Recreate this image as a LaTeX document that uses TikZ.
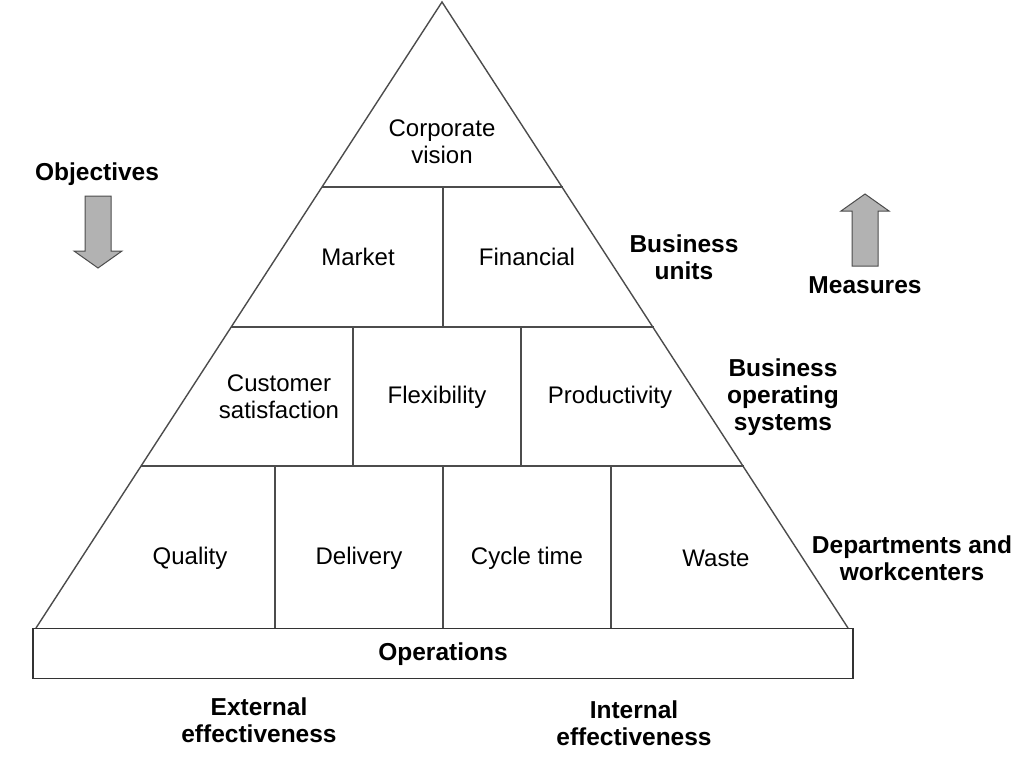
\documentclass[tikz,border=0pt]{standalone}
\usepackage{fontspec}
\setmainfont{Liberation Sans}
\begin{document}
\begin{tikzpicture}[x=1pt,y=-1pt,
  lbl/.style={font=\fontsize{24}{27}\selectfont,align=center},
  blbl/.style={font=\fontsize{24.5}{27}\selectfont\bfseries,align=center},
  grid/.style={draw=black!70,line width=1.4pt},
  bigarrow/.style={draw=black!70,fill=black!30,line width=1pt}]
\useasboundingbox (0,0) rectangle (1036,760);
\coordinate (apex) at (442,2);
\coordinate (bl) at (36,628);
\coordinate (br) at (848,628);
\draw[grid] (bl) -- (apex) -- (br);
\draw[grid] (322,187) -- (563,187);
\draw[grid] (231,327) -- (654,327);
\draw[grid] (141,466) -- (744,466);
\draw[grid] (443,187) -- (443,327);
\draw[grid] (353,327) -- (353,466);
\draw[grid] (521,327) -- (521,466);
\draw[grid] (275,466) -- (275,628);
\draw[grid] (443,466) -- (443,628);
\draw[grid] (611,466) -- (611,628);
\node[draw=black!80,line width=1.4pt,minimum width=820pt,minimum height=50pt,anchor=north,blbl] (ops) at (443,628) {Operations};
\node[lbl] (cv) at (442,142) {Corporate\\vision};
\node[lbl] (mk) at (358,257) {Market};
\node[lbl] (fi) at (527,257) {Financial};
\node[lbl] (cs) at (279,397) {Customer\\satisfaction};
\node[lbl] (fl) at (437,397) {Flexibility};
\node[lbl] (pr) at (610,397) {Productivity};
\node[lbl] (qu) at (190,558) {Quality};
\node[lbl] (de) at (359,558) {Delivery};
\node[lbl] (ct) at (527,558) {Cycle time};
\node[lbl] (wa) at (716,558) {Waste};
\node[blbl] (obj) at (97,174) {Objectives};
\node[blbl] (mea) at (865,285) {Measures};
\node[blbl] (bu) at (684,257) {Business\\units};
\node[blbl] (bos) at (783,397) {Business\\operating\\systems};
\node[blbl] (dw) at (912,558) {Departments and\\workcenters};
\node[blbl] (ee) at (259,720) {External\\effectiveness};
\node[blbl] (ie) at (634,723) {Internal\\effectiveness};
\draw[bigarrow] (85,196) -- (111,196) -- (111,251) -- (122,251) -- (98,268) -- (74,251) -- (85,251) -- cycle;
\draw[bigarrow] (852,266) -- (878,266) -- (878,211) -- (889,211) -- (865,194) -- (841,211) -- (852,211) -- cycle;
\end{tikzpicture}
\end{document}
